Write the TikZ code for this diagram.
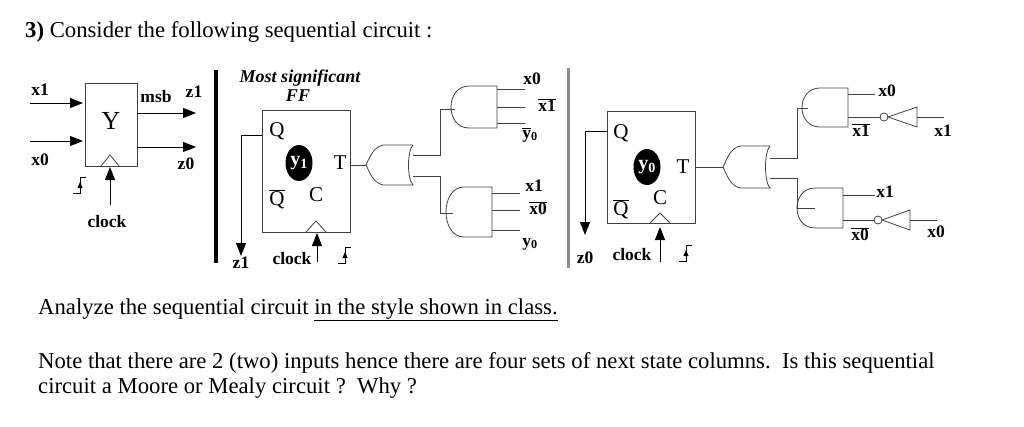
\documentclass[tikz,border=0pt]{standalone}
\usepackage{fontspec}
\setmainfont{Liberation Serif}
\usetikzlibrary{arrows.meta,shapes.geometric}
\begin{document}
\begin{tikzpicture}[x=1pt,y=-1pt,
 w/.style={line width=0.9pt},
 g/.style={line width=0.8pt, draw=black!75},
 big/.style={-{Triangle[length=13pt,width=10pt]},line width=0.9pt},
 lab/.style={font=\fontsize{17.5}{17.5}\selectfont\bfseries,inner sep=0pt},
 ser/.style={font=\fontsize{21}{21}\selectfont,inner sep=0pt},
 txt/.style={font=\fontsize{22.7}{22.7}\selectfont,inner sep=0pt,anchor=base west},
 blob/.style={fill=black,ellipse,minimum width=27pt,minimum height=36pt,inner sep=0pt,text=white,font=\fontsize{20}{20}\selectfont\bfseries}]
\useasboundingbox (0,0) rectangle (1024,426);
\newcommand\edgesym[2]{\draw[w] ({#1-7},{#2+16}) -- (#1,{#2+16}) -- (#1,#2) -- ({#1+6},#2);
 \draw[-{Triangle[length=6pt,width=5pt]},w] (#1,{#2+14}) -- (#1,{#2+5});}
\newcommand\andL[3]{\draw[g] (#1,#2) -- (#1,#3) -- ({#1-28},#3) .. controls ({#1-52},#3) and ({#1-52},#2) .. ({#1-28},#2) -- cycle;}
\newcommand\orL[3]{\draw[g] (#1,#2) -- ({#1-30},#2) .. controls ({#1-40},{#2+2}) and ({#1-44},{(#2+#3)/2-6}) .. ({#1-47},{(#2+#3)/2})
  .. controls ({#1-44},{(#2+#3)/2+6}) and ({#1-40},{#3-2}) .. ({#1-30},#3) -- (#1,#3)
  .. controls ({#1-6},{#3-6}) and ({#1-6},{#2+6}) .. (#1,#2);}
\node[txt] (t) at (25,37) {\textbf{3)} Consider the following sequential circuit :};
% left block
\draw[g] (85,83) rectangle (137,166);
\node[ser,font=\fontsize{26}{26}\selectfont] (Y) at (111,121) {Y};
\draw[g] (101,166) -- (110,155) -- (119,166);
\coordinate (x1s) at (30,103); \coordinate (x1e) at (83,103);
\draw[big] (x1s) -- (x1e);
\coordinate (x0s) at (30,141); \coordinate (x0e) at (83,141);
\draw[big] (x0s) -- (x0e);
\node[lab] at (40,90) {x1}; \node[lab] at (40,160) {x0};
\draw[big] (137,113) -- (196,113); \draw[big] (137,147) -- (196,147);
\node[lab] at (156,97) {msb}; \node[lab] at (194,92) {z1}; \node[lab] at (186,164) {z0};
\draw[big] (110,205) -- (110,167);
\node[lab] at (107,222) {clock};
\edgesym{80}{177}
\draw[line width=4pt] (216,70) -- (216,263);
% FF1
\node[lab,font=\fontsize{18}{18}\selectfont\bfseries\itshape] at (300,78) {Most significant};
\node[lab,font=\fontsize{18}{18}\selectfont\bfseries\itshape] at (298,96) {FF};
\draw[g] (262,110) rectangle (350,232);
\node[ser] at (277,131) {Q}; \node[ser] at (277,199) {$\overline{\mbox{Q}}$};
\node[ser] at (340,163) {T}; \node[ser] at (316,195) {C};
\node[blob] (y1) at (299,163) {y\textsubscript{1}};
\draw[g] (306,232) -- (316,221) -- (326,232);
\draw[w] (262,135) -- (241,135); \draw[big] (241,135) -- (241,256);
\node[lab] at (241,263) {z1}; \node[lab] at (292,259) {clock};
\draw[big] (317,262) -- (317,233);
\edgesym{345}{247}
\orL{413}{145}{185}
\draw[g] (350,165) -- (366,165);
\andL{497}{86}{128}
\draw[g] (413,155) -- (440,155) -- (440,109) -- (455,109);
\draw[g] (497,89)--(525,89) (497,107)--(525,107) (497,123)--(525,123);
\node[lab] at (532,79) {x0}; \node[lab] at (547,105) {$\overline{\mbox{x1}}$}; \node[lab] at (530,135) {$\overline{\mbox{y}}$\textsubscript{0}};
\andL{492}{187}{237}
\draw[g] (413,176) -- (440,176) -- (440,213) -- (453,213);
\draw[g] (492,193)--(520,193) (492,210)--(520,210) (492,230)--(520,230);
\node[lab] at (534,186) {x1}; \node[lab] at (538,208) {$\overline{\mbox{x0}}$}; \node[lab] at (530,244) {y\textsubscript{0}};
\draw[line width=3pt,black!45] (568,68) -- (568,268);
% FF0
\draw[g] (607,111) rectangle (695,223);
\node[ser] at (621,133) {Q}; \node[ser] at (621,209) {$\overline{\mbox{Q}}$};
\node[ser] at (683,167) {T}; \node[ser] at (660,198) {C};
\node[blob] (y0) at (647,167) {y\textsubscript{0}};
\draw[g] (650,223) -- (660,213) -- (670,223);
\draw[w] (607,131) -- (585,131); \draw[big] (585,131) -- (585,235);
\node[lab] at (585,258) {z0}; \node[lab] at (632,255) {clock};
\draw[big] (660,262) -- (660,227);
\edgesym{686}{245}
\orL{770}{146}{188}
\draw[g] (695,167) -- (723,167);
\andL{848}{88}{127}
\draw[g] (770,158) -- (797,158) -- (797,108) -- (808,108);
\draw[g] (848,94) -- (875,94) (848,117) -- (880,117);
\draw[g] (884,117) circle (4);
\draw[g] (888,117) -- (917,107) -- (917,127) -- cycle; \draw[g] (917,117) -- (944,117);
\node[lab] at (887,91) {x0}; \node[lab] at (943,131) {x1}; \node[lab] at (861,130) {$\overline{\mbox{x1}}$};
\andL{843}{188}{228}
\draw[g] (770,178) -- (797,178) -- (797,208) -- (815,208);
\draw[g] (843,195) -- (875,195) (843,220) -- (874,220);
\draw[g] (878,220) circle (4);
\draw[g] (882,220) -- (910,210) -- (910,230) -- cycle; \draw[g] (910,220) -- (937,220);
\node[lab] at (885,192) {x1}; \node[lab] at (936,232) {x0}; \node[lab] at (860,234) {$\overline{\mbox{x0}}$};
\node[txt] (a) at (38,314) {Analyze the sequential circuit \underline{in the style shown in class.}};
\node[txt] (n1) at (38,368) {Note that there are 2 (two) inputs hence there are four sets of next state columns.\ \ Is this sequential};
\node[txt] (n2) at (38,393) {circuit a Moore or Mealy circuit ?\ \ Why ?};
\end{tikzpicture}
\end{document}
